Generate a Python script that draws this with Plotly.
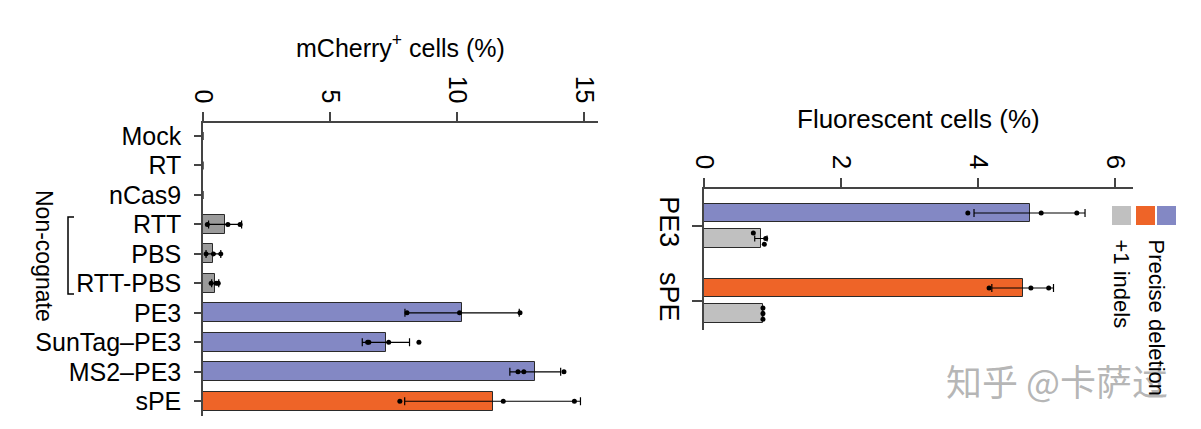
import plotly.graph_objects as go

# ---------------- data ----------------
left_categories = ["Mock", "RT", "nCas9", "RTT", "PBS", "RTT-PBS",
                   "PE3", "SunTag–PE3", "MS2–PE3", "sPE"]
left_means = [0, 0, 0, 0.87, 0.41, 0.48, 10.2, 7.2, 13.08, 11.4]
left_sd = [0, 0, 0, 0.65, 0.29, 0.14, 2.25, 0.93, 1.0, 3.46]
left_points = [[], [], [], [0.17, 0.98, 1.46], [0.12, 0.41, 0.7],
               [0.32, 0.52, 0.6], [8.03, 10.1, 12.48],
               [6.48, 6.53, 7.31, 8.5], [12.4, 12.63, 14.21],
               [7.75, 11.82, 14.62]]
left_group = ["control", "control", "control", "noncognate", "noncognate",
              "noncognate", "pe3", "pe3", "pe3", "spe"]
left_ticks = [0, 5, 10, 15]

right_categories = ["PE3", "sPE"]
precise_means = [4.75, 4.65]
precise_sd = [0.81, 0.45]
precise_points = [[3.85, 4.92, 5.44], [4.16, 4.77, 5.03]]
indel_means = [0.83, 0.86]
indel_sd = [0.09, 0.01]
indel_points = [[0.72, 0.9, 0.88], [0.86, 0.86, 0.86]]
right_ticks = [0, 2, 4, 6]

# ---------------- style ----------------
W, H = 1201, 429
PURPLE = "#8388c4"
ORANGE = "#ee6428"
GREY_D = "#9b9b9b"
GREY_L = "#c0c0c0"
EDGE = "#2a2a2a"
AX = "#444444"
FONT = "Liberation Sans, Arial, Helvetica, sans-serif"
group_color = {"control": GREY_D, "noncognate": GREY_D, "pe3": PURPLE, "spe": ORANGE}


def px(x):
    return x / W


def py(y):
    return 1 - y / H


fig = go.Figure()

# ---------- left panel ----------
fig.add_trace(go.Bar(
    x=left_means, y=left_categories, orientation="h", width=0.645,
    marker=dict(color=[group_color[g] for g in left_group],
                line=dict(color=EDGE, width=1)),
    error_x=dict(type="data", array=left_sd, color="black", thickness=1.2, width=4),
    xaxis="x", yaxis="y", showlegend=False, hoverinfo="skip"))

lx, ly = [], []
for cat, pts in zip(left_categories, left_points):
    for p in pts:
        lx.append(p)
        ly.append(cat)
fig.add_trace(go.Scatter(x=lx, y=ly, mode="markers",
                         marker=dict(color="black", size=5),
                         xaxis="x", yaxis="y", showlegend=False, hoverinfo="skip"))

# ---------- right panel ----------
off = 0.17
ypos_prec = [i - off for i in range(len(right_categories))]
ypos_ind = [i + off for i in range(len(right_categories))]
fig.add_trace(go.Bar(
    x=precise_means, y=ypos_prec, orientation="h", width=0.248,
    marker=dict(color=[PURPLE, ORANGE], line=dict(color=EDGE, width=1)),
    error_x=dict(type="data", array=precise_sd, color="black", thickness=1.2, width=4),
    xaxis="x2", yaxis="y2", showlegend=False, hoverinfo="skip"))
fig.add_trace(go.Bar(
    x=indel_means, y=ypos_ind, orientation="h", width=0.248,
    marker=dict(color=GREY_L, line=dict(color=EDGE, width=1)),
    error_x=dict(type="data", array=indel_sd, color="black", thickness=1.2, width=3),
    xaxis="x2", yaxis="y2", showlegend=False, hoverinfo="skip"))

rx, ry = [], []
for yc, pts in zip(ypos_prec, precise_points):
    for p in pts:
        rx.append(p)
        ry.append(yc)
jit = [-0.075, 0.0, 0.075]
for yc, pts in zip(ypos_ind, indel_points):
    for k, p in enumerate(pts):
        rx.append(p)
        ry.append(yc + jit[k % 3])
fig.add_trace(go.Scatter(x=rx, y=ry, mode="markers",
                         marker=dict(color="black", size=5),
                         xaxis="x2", yaxis="y2", showlegend=False, hoverinfo="skip"))

axis_common = dict(showline=True, linecolor=AX, linewidth=1.5, ticks="outside",
                   tickcolor=AX, tickwidth=1.5, showgrid=False, zeroline=False,
                   fixedrange=True, automargin=False)

fig.update_layout(
    width=W, height=H, margin=dict(l=0, r=0, t=0, b=0, autoexpand=False),
    paper_bgcolor="white", plot_bgcolor="white",
    font=dict(family=FONT, color="black"),
    bargap=0,
    xaxis=dict(domain=[px(203), px(598)], range=[0, 15.55], side="top",
               anchor="y", tickmode="array", tickvals=left_ticks, tickangle=90,
               ticklen=9, tickfont=dict(size=25), **axis_common),
    yaxis=dict(domain=[py(416), py(123)], anchor="x", type="category",
               categoryorder="array", categoryarray=left_categories,
               tickmode="array", tickvals=left_categories,
               range=[9.5, -0.44], ticklen=7, ticklabelstandoff=8,
               tickfont=dict(size=25), **axis_common),
    xaxis2=dict(domain=[px(704), px(1133)], range=[0, 6.26], side="top",
                anchor="y2", tickmode="array", tickvals=right_ticks, tickangle=90,
                ticklen=9, tickfont=dict(size=26), **axis_common),
    yaxis2=dict(domain=[py(330), py(189)], anchor="x2",
                range=[1.39, -0.49], tickmode="array", tickvals=[0, 1],
                ticktext=right_categories, tickangle=90, ticklen=10,
                ticklabelstandoff=0, tickfont=dict(size=27), **axis_common),
)

annotations = [
    dict(text="mCherry<sup>+</sup> cells (%)", x=px(400), y=py(46),
         font=dict(size=25)),
    dict(text="Fluorescent cells (%)", x=px(918), y=py(119),
         font=dict(size=26)),
    dict(text="Non-cognate", x=px(44), y=py(256), textangle=90,
         font=dict(size=23)),
    dict(text="知乎 @卡萨过", x=px(1057), y=py(380),
         font=dict(size=36, family="Noto Sans CJK SC", color="rgba(150,150,150,0.7)")),
    dict(text="Precise deletion", x=px(1156), y=py(237), yanchor="top",
         textangle=90, font=dict(size=22)),
    dict(text="+1 indels", x=px(1121), y=py(237), yanchor="top",
         textangle=90, font=dict(size=22)),
]
for a in annotations:
    a.setdefault("xanchor", "center")
    a.setdefault("yanchor", "middle")
    a.update(xref="paper", yref="paper", showarrow=False)
fig.update_layout(annotations=annotations)

shapes = [
    # bracket for non-cognate group
    dict(type="path", path=f"M {px(74)} {py(217)} L {px(68)} {py(217)} L {px(68)} {py(294)} L {px(74)} {py(294)}",
         line=dict(color="black", width=1.5)),
    # legend squares
    dict(type="rect", x0=px(1112), x1=px(1131), y0=py(225), y1=py(206),
         fillcolor=GREY_L, line=dict(width=0)),
    dict(type="rect", x0=px(1136), x1=px(1155), y0=py(225), y1=py(206),
         fillcolor=ORANGE, line=dict(width=0)),
    dict(type="rect", x0=px(1157), x1=px(1176), y0=py(225), y1=py(206),
         fillcolor=PURPLE, line=dict(width=0)),
]
for s in shapes:
    s.update(xref="paper", yref="paper")
fig.update_layout(shapes=shapes)

fig.write_html("out.html")
